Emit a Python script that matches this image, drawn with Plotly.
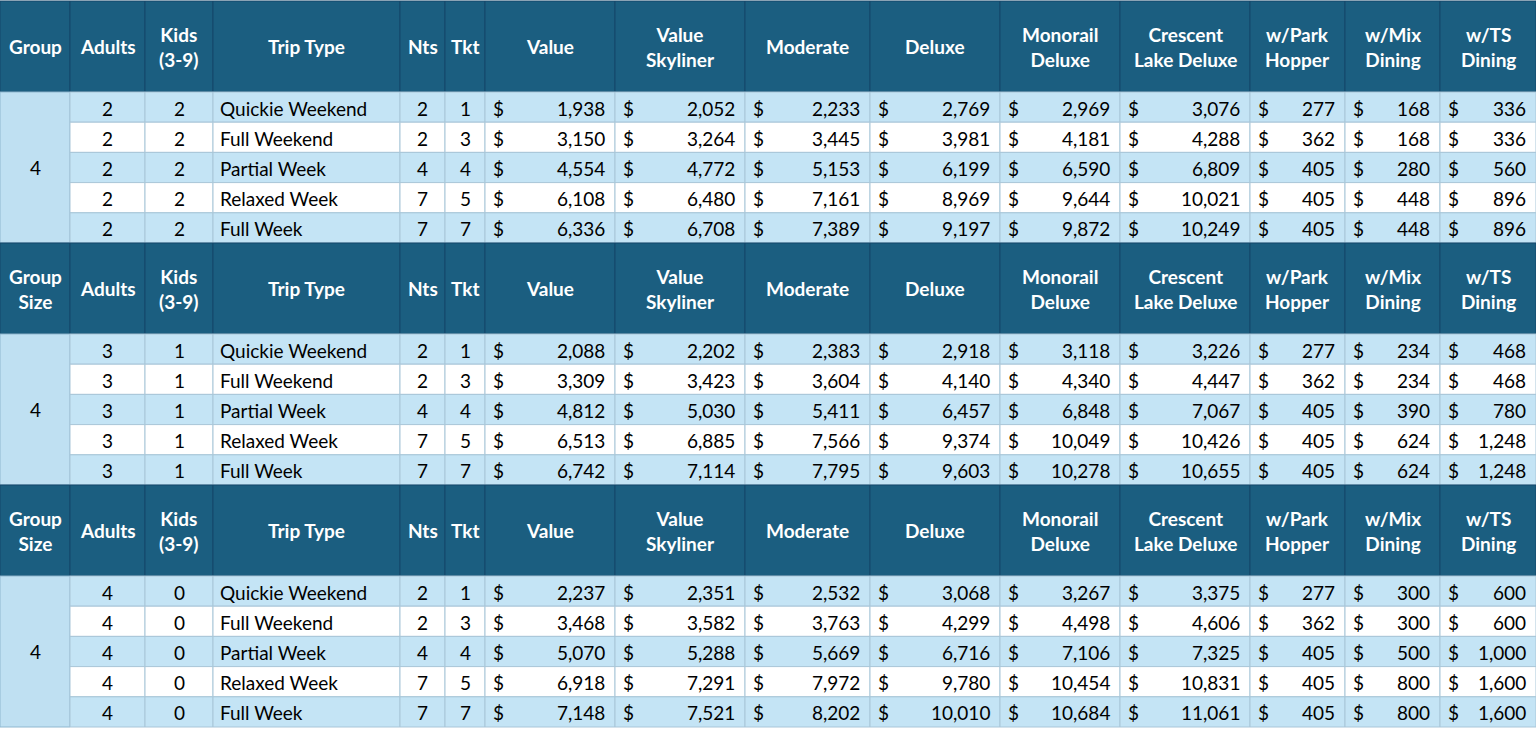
import plotly.graph_objects as go

# ---- data ----
header_first = ["Group", "Adults", "Kids<br>(3-9)", "Trip Type", "Nts", "Tkt", "Value", "Value<br>Skyliner",
                "Moderate", "Deluxe", "Monorail<br>Deluxe", "Crescent<br>Lake Deluxe", "w/Park<br>Hopper",
                "w/Mix<br>Dining", "w/TS<br>Dining"]
header_next = ["Group<br>Size"] + header_first[1:]
group_size = [4, 4, 4]
adults = [2, 3, 4]
kids = [2, 1, 0]
trip_types = ["Quickie Weekend", "Full Weekend", "Partial Week", "Relaxed Week", "Full Week"]
nights = [2, 2, 4, 7, 7]
tickets = [1, 3, 4, 5, 7]
prices_2a2k = [
    [1938, 2052, 2233, 2769, 2969, 3076, 277, 168, 336],
    [3150, 3264, 3445, 3981, 4181, 4288, 362, 168, 336],
    [4554, 4772, 5153, 6199, 6590, 6809, 405, 280, 560],
    [6108, 6480, 7161, 8969, 9644, 10021, 405, 448, 896],
    [6336, 6708, 7389, 9197, 9872, 10249, 405, 448, 896],
]
prices_3a1k = [
    [2088, 2202, 2383, 2918, 3118, 3226, 277, 234, 468],
    [3309, 3423, 3604, 4140, 4340, 4447, 362, 234, 468],
    [4812, 5030, 5411, 6457, 6848, 7067, 405, 390, 780],
    [6513, 6885, 7566, 9374, 10049, 10426, 405, 624, 1248],
    [6742, 7114, 7795, 9603, 10278, 10655, 405, 624, 1248],
]
prices_4a0k = [
    [2237, 2351, 2532, 3068, 3267, 3375, 277, 300, 600],
    [3468, 3582, 3763, 4299, 4498, 4606, 362, 300, 600],
    [5070, 5288, 5669, 6716, 7106, 7325, 405, 500, 1000],
    [6918, 7291, 7972, 9780, 10454, 10831, 405, 800, 1600],
    [7148, 7521, 8202, 10010, 10684, 11061, 405, 800, 1600],
]
blocks = [prices_2a2k, prices_3a1k, prices_4a0k]

# ---- layout geometry ----
col_edges = [0, 70, 145, 213, 400, 445, 485, 615, 745, 870, 1000, 1120, 1250, 1345, 1440, 1536]
head_h, row_h = 91, 30.2
DARK = "#1B5E80"
LIGHT = "#C4E4F5"
GROUP_BG = "#BFE0F2"
FONT = "Lato, Open Sans, sans-serif"

fig = go.Figure()
shapes, annots = [], []

def rect(x0, x1, y0, y1, fill, line):
    shapes.append(dict(type="rect", x0=x0, x1=x1, y0=y0, y1=y1, fillcolor=fill,
                       line=dict(color=line, width=1), layer="below"))

def text(x, y, s, anchor="center", color="black", bold=False, size=19):
    annots.append(dict(x=x, y=y, text=f"<b>{s}</b>" if bold else s, showarrow=False, xanchor=anchor,
                       yanchor="middle", align="center", font=dict(color=color, size=size, family=FONT)))

y = 1
for b, prices in enumerate(blocks):
    heads = header_first if b == 0 else header_next
    for c, h in enumerate(heads):
        x0, x1 = col_edges[c], col_edges[c + 1]
        rect(x0, x1, y, y + head_h, DARK, "#14476A")
        text((x0 + x1) / 2, y + head_h / 2, h, color="white", bold=True, size=19)
    y += head_h
    rect(col_edges[0], col_edges[1], y, y + 5 * row_h, GROUP_BG, "#8FB8D0")
    text(35, y + 2.5 * row_h, str(group_size[b]))
    for r in range(5):
        fill = LIGHT if r % 2 == 0 else "white"
        y0, y1 = y + r * row_h, y + (r + 1) * row_h
        ym = (y0 + y1) / 2 + 1
        for c in range(1, 15):
            rect(col_edges[c], col_edges[c + 1], y0, y1, fill, "#A9C6D8")
        text((col_edges[1] + col_edges[2]) / 2, ym, str(adults[b]))
        text((col_edges[2] + col_edges[3]) / 2, ym, str(kids[b]))
        text(col_edges[3] + 5, ym, trip_types[r], anchor="left")
        text((col_edges[4] + col_edges[5]) / 2, ym, str(nights[r]))
        text((col_edges[5] + col_edges[6]) / 2, ym, str(tickets[r]))
        for k, v in enumerate(prices[r]):
            c = 6 + k
            text(col_edges[c] + 6, ym, "$", anchor="left")
            text(col_edges[c + 1] - 8, ym, f"{v:,}", anchor="right")
    y += 5 * row_h

fig.update_layout(
    width=1536, height=729, margin=dict(l=0, r=0, t=0, b=0),
    paper_bgcolor="white", plot_bgcolor="white",
    shapes=shapes, annotations=annots, showlegend=False,
    xaxis=dict(range=[0, 1536], visible=False, fixedrange=True),
    yaxis=dict(range=[729, 0], visible=False, fixedrange=True),
)
# drop the page's default body margin so the table fills the window
fig.write_html("out.html", config={"displayModeBar": False},
               post_script="document.body.style.margin='0';document.body.style.overflow='hidden';")
